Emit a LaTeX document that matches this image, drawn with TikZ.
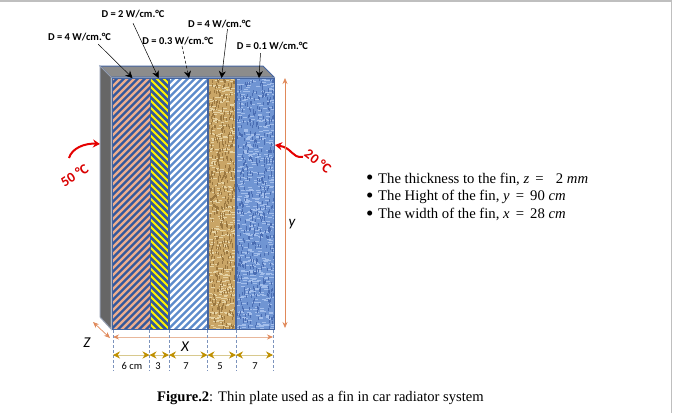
\documentclass[tikz,border=0pt]{standalone}
\usepackage{fontspec}
\setmainfont{Liberation Serif}
\newfontfamily\labelfont{Carlito}
\usetikzlibrary{arrows.meta,calc}

\definecolor{plateblue}{HTML}{44649F}
\definecolor{salmon}{HTML}{EDAE8D}
\definecolor{stripeblue}{HTML}{33589C}
\definecolor{skyblue}{HTML}{5C8BCB}
\definecolor{tan}{HTML}{C9A566}
\definecolor{tanlight}{HTML}{E6D3A4}
\definecolor{tandark}{HTML}{9A7740}
\definecolor{wovenblue}{HTML}{7095D3}
\definecolor{wovenlight}{HTML}{A3BEEB}
\definecolor{wovendark}{HTML}{4A6DB3}
\definecolor{orangeline}{HTML}{E0895A}
\definecolor{paleorange}{HTML}{E8B79B}
\definecolor{golden}{HTML}{BF9000}
\definecolor{palegold}{HTML}{D8C98E}
\definecolor{pagegrey}{HTML}{BFBFBF}

% one set of diagonal stripes, clipped by the node
\newcommand{\hatchlines}[3]{%
  \foreach \i in {-182,-175,...,182}
    \draw[#1, line width=#2] ([xshift=\i pt-#3*130pt,yshift=-130pt]path picture bounding box.center) -- ++(#3*260pt,260pt);
}
% short random threads, for the two woven strips
\newcommand{\weavelines}[4]{%
  \foreach \i in {1,...,#1} {
    \pgfmathsetmacro{\px}{(rnd-0.5)*#2}
    \pgfmathsetmacro{\py}{(rnd-0.5)*252}
    \draw[#3, line width=0.6pt] ([xshift=\px pt,yshift=\py pt]path picture bounding box.center) -- ++(#4);
  }
}
\newcommand{\listbullet}{\makebox[12pt][l]{\fontsize{21}{21}\selectfont\raisebox{-1.6pt}{\textbullet}}}

\begin{document}
\begin{tikzpicture}[x=1pt,y=-1pt,
    stripnode/.style={rectangle, draw=plateblue, line width=1pt, anchor=north west, inner sep=0pt, minimum height=251pt},
    hatchA/.style={stripnode, fill=salmon, minimum width=38pt, path picture={\hatchlines{stripeblue}{2.3pt}{1}}},
    hatchB/.style={stripnode, fill=yellow, minimum width=18pt, path picture={\hatchlines{stripeblue}{2.5pt}{-1}}},
    hatchC/.style={stripnode, fill=white, minimum width=38pt, path picture={\hatchlines{skyblue}{2.2pt}{1}}},
    weaveA/.style={stripnode, fill=tan, minimum width=27pt, path picture={
        \pgfmathsetseed{7}
        \weavelines{420}{27}{tanlight}{3.5pt,0pt}
        \weavelines{480}{27}{tandark}{0pt,3pt}}},
    weaveB/.style={stripnode, fill=wovenblue, minimum width=38pt, path picture={
        \pgfmathsetseed{11}
        \weavelines{600}{38}{wovenlight}{4pt,0pt}
        \weavelines{500}{38}{wovendark}{0pt,3pt}}},
    dlabel/.style={font=\labelfont\bfseries\fontsize{10.5}{12}\selectfont, inner sep=0pt},
    dimlabel/.style={font=\labelfont\fontsize{10.5}{12}\selectfont, inner sep=0pt},
    axislabel/.style={font=\labelfont\itshape\fontsize{15}{17}\selectfont, inner sep=0pt},
    templabel/.style={font=\labelfont\bfseries\fontsize{14}{16}\selectfont, text=red!85!black, inner sep=0pt},
    listnode/.style={anchor=base west, inner sep=0pt, font=\fontsize{14.7}{16}\selectfont},
    pointer/.style={-{Stealth[length=7pt,width=7pt]}, black, line width=0.5pt},
    heatarrow/.style={-{Stealth[length=7pt,width=8pt]}, red!90!black, line width=2pt},
    sizearrow/.style={{Stealth[length=6pt,width=5pt]}-{Stealth[length=6pt,width=5pt]}, orangeline, line width=0.7pt},
    widtharrow/.style={{Stealth[length=6pt,width=5pt,color=orangeline]}-{Stealth[length=6pt,width=5pt,color=orangeline]}, paleorange, line width=0.7pt},
    goldarrow/.style={{Stealth[length=7pt,width=7pt,color=golden]}-{Stealth[length=7pt,width=7pt,color=golden]}, palegold, line width=0.8pt},
    tickline/.style={densely dashed, plateblue!70, line width=0.4pt}
   ]
   \useasboundingbox (0,0) rectangle (677,413);
   \coordinate (pageleft) at (0,1);
   \coordinate (pagecorner) at (671.5,1);
   \coordinate (pagefoot) at (671.5,413);
   \draw[pagegrey, line width=1.5pt] (pageleft) -- (pagecorner) -- (pagefoot);

   % plate faces
   \fill[gray!90, draw=plateblue, line width=1pt] (100,66) -- (263,66) -- (274,77) -- (111,77) -- cycle;
   \fill[black!60, draw=black!40!plateblue!50, line width=1pt] (100,66) -- (111,77) -- (111,329) -- (100,317) -- cycle;

   % strips
   \node[hatchA] (stripA) at (112,78)  {};
   \node[hatchB] (stripB) at (150,78)  {};
   \node[hatchC] (stripC) at (169,78)  {};
   \node[weaveA] (stripD) at (207.5,78) {};
   \node[weaveB] (stripE) at (235.5,78) {};

   % conductivity labels
   \node[dlabel] (condA) at (79.5,37)  {D = 4 W/cm.°C};
   \node[dlabel] (condB) at (133,14) {D = 2 W/cm.°C};
   \node[dlabel] (condC) at (178,41) {D = 0.3 W/cm.°C};
   \node[dlabel] (condD) at (219.5,24) {D = 4 W/cm.°C};
   \node[dlabel] (condE) at (272.5,46) {D = 0.1 W/cm.°C};

   \draw[pointer] (condA.south east) ++(-13,3) -- ([xshift=1pt]stripA.north);
   \draw[pointer] (condB.south) ++(0,5) -- ([xshift=-1pt]stripB.north);
   \draw[pointer, densely dashed] (condC.south) ++(4,1) -- ([xshift=0.5pt]stripC.north);
   \draw[pointer] (condD.south) ++(8,1) -- (stripD.north);
   \draw[pointer] (condE.south) ++(-12,3) -- ([xshift=4pt]stripE.north);

   % temperatures
   \coordinate (hotstart) at (69,158);
   \coordinate (hotend) at (100,144);
   \coordinate (coldstart) at (303,157);
   \coordinate (coldend) at (275,145);
   \draw[heatarrow] (hotstart) .. controls (72,148) and (85,143) .. (hotend);
   \draw[heatarrow] (coldstart) .. controls (291,158) and (293,148) .. (coldend);
   \node[templabel, rotate=33]  (hottemp)  at (74.5,175)  {50 °C};
   \node[templabel, rotate=-38] (coldtemp) at (318,161) {20 °C};

   % overall sizes
   \coordinate (ytop) at (285,78);
   \coordinate (yfoot) at (285,328);
   \coordinate (zback) at (93,322);
   \coordinate (zfront) at (110,338);
   \coordinate (xleft) at (113,337);
   \coordinate (xright) at (273,337);
   \draw[sizearrow] (ytop) -- (yfoot);
   \draw[sizearrow] (zback) -- (zfront);
   \draw[widtharrow] (xleft) -- (xright);
   \node[axislabel] (ylabel) at (292,224) {y};
   \node[axislabel] (zlabel) at (87,343)  {Z};
   \node[axislabel] (xlabel) at (185,347) {X};

   % strip widths
   \foreach \name/\xpos in {a/113,b/149.5,c/169,d/207.5,e/236,f/273} {
     \coordinate (tick\name) at (\xpos,330);
     \coordinate (dim\name) at (\xpos,355);
     \coordinate (foot\name) at (\xpos,371);
     \draw[tickline] (tick\name) -- (foot\name);
   }
   \draw[goldarrow] (dima) -- (dimb);
   \draw[goldarrow] (dimb) -- (dimc);
   \draw[goldarrow] (dimc) -- (dimd);
   \draw[goldarrow] (dimd) -- (dime);
   \draw[goldarrow] (dime) -- (dimf);
   \node[dimlabel] (widthA) at (132,366) {6 cm};
   \node[dimlabel] (widthB) at (158,366) {3};
   \node[dimlabel] (widthC) at (186,366) {7};
   \node[dimlabel] (widthD) at (220,366) {5};
   \node[dimlabel] (widthE) at (255,366) {7};

   % fin data
   \node[listnode] (thickness) at (366,183) {\listbullet The thickness to the fin, \textit{z} \,=\, \ \,2 \textit{mm}};
   \node[listnode] (hight)     at (366,200.5) {\listbullet The Hight of the fin, \textit{y} \,=\, 90 \textit{cm}};
   \node[listnode] (width)     at (366,218.5) {\listbullet The width of the fin, \textit{x} \,=\, 28 \textit{cm}};

   \node[listnode, font=\fontsize{14.6}{16}\selectfont] (caption) at (157,401) {\textbf{Figure.2}: Thin plate used as a fin in car radiator system};
\end{tikzpicture}
\end{document}
